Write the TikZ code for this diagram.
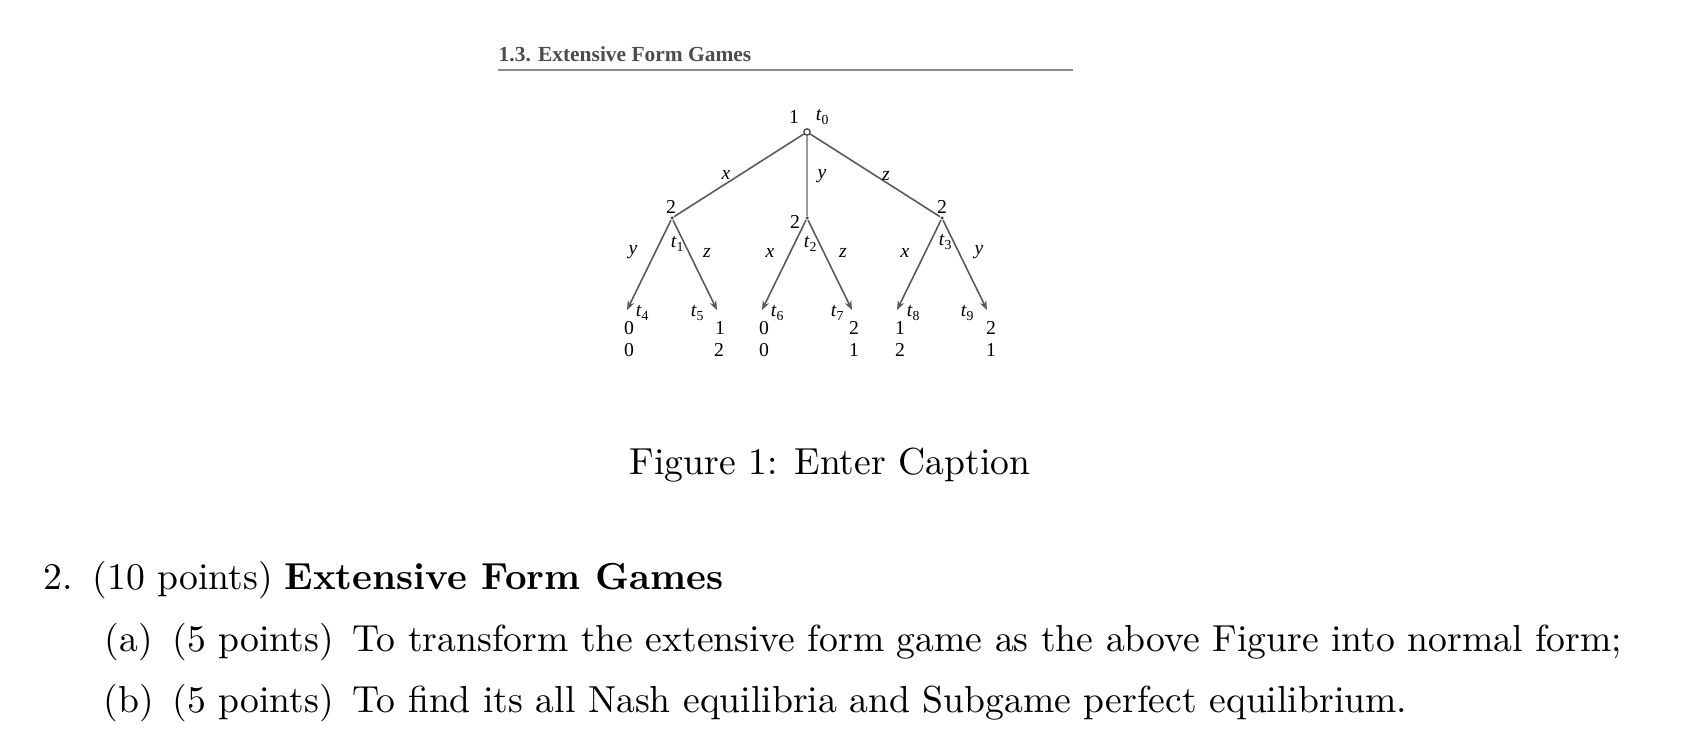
\documentclass[tikz,border=0pt]{standalone}
\usepackage{fontspec}
\usetikzlibrary{arrows.meta}
\newfontfamily\figfont{Liberation Serif}
\newcommand{\tlab}[1]{\textit{t}\textsubscript{#1}}

\begin{document}
\begin{tikzpicture}[
    x=0.01cm, y=-0.01cm,
    txt/.style={anchor=base west, inner sep=0pt, font=\fontsize{10.7}{13}\selectfont},
    hdr/.style={anchor=base west, inner sep=0pt, text=black!70, font=\figfont\bfseries\fontsize{6.1}{8}\selectfont},
    lbl/.style={inner sep=0pt, font=\figfont\fontsize{5.6}{6}\selectfont},
    root/.style={circle, draw=black!70, fill=white, line width=0.4pt, inner sep=0pt, minimum size=1.8pt},
    dot/.style={circle, fill=black!70, inner sep=0pt, minimum size=1pt},
    br/.style={draw=black!65, line width=0.45pt},
    arr/.style={br, -{Stealth[length=2.6pt, width=2pt]}}
]
\useasboundingbox (0,0) rectangle (1686,746);

% page header of the scanned figure
\node[hdr] (head) at (498,62) {1.3. Extensive Form Games};
\coordinate (rulel) at (498,70);
\coordinate (ruler) at (1073,70);
\draw[black!45, line width=0.6pt] (rulel) -- (ruler);

% game tree
\node[root] (t0) at (807,132) {};
\node[dot] (t1) at (672,218) {};
\node[dot] (t2) at (807,218) {};
\node[dot] (t3) at (942,218) {};
\coordinate (t4) at (627,310);
\coordinate (t5) at (717,310);
\coordinate (t6) at (762,310);
\coordinate (t7) at (852,310);
\coordinate (t8) at (897,310);
\coordinate (t9) at (987,310);

\draw[br] (t0) -- (t1);
\draw[br, draw=black!40] (t0) -- (t2);
\draw[br] (t0) -- (t3);
\draw[arr] (t1) -- (t4);
\draw[arr] (t1) -- (t5);
\draw[arr] (t2) -- (t6);
\draw[arr] (t2) -- (t7);
\draw[arr] (t3) -- (t8);
\draw[arr] (t3) -- (t9);

% players and node names
\node[lbl] (p0) at (794,117) {1};
\node[lbl] (n0) at (823,117) {\tlab{0}};
\node[lbl] (p1) at (671,207) {2};
\node[lbl] (p2) at (795,222) {2};
\node[lbl] (p3) at (942,207) {2};
\node[lbl] (n1) at (678,244) {\tlab{1}};
\node[lbl] (n2) at (811,244) {\tlab{2}};
\node[lbl] (n3) at (946,242) {\tlab{3}};
\node[lbl] (n4) at (643,313) {\tlab{4}};
\node[lbl] (n5) at (698,313) {\tlab{5}};
\node[lbl] (n6) at (778,313) {\tlab{6}};
\node[lbl] (n7) at (838,313) {\tlab{7}};
\node[lbl] (n8) at (914,313) {\tlab{8}};
\node[lbl] (n9) at (968,313) {\tlab{9}};

% actions
\node[lbl] (a1) at (726,175) {\textit{x}};
\node[lbl] (a2) at (822,176) {\textit{y}};
\node[lbl] (a3) at (886,176) {\textit{z}};
\node[lbl] (a4) at (633,252) {\textit{y}};
\node[lbl] (a5) at (707,253) {\textit{z}};
\node[lbl] (a6) at (770,253) {\textit{x}};
\node[lbl] (a7) at (843,253) {\textit{z}};
\node[lbl] (a8) at (905,253) {\textit{x}};
\node[lbl] (a9) at (979,252) {\textit{y}};

% payoffs
\node[lbl] (u4) at (629,328) {0};
\node[lbl] (v4) at (629,350) {0};
\node[lbl] (u5) at (720,328) {1};
\node[lbl] (v5) at (719,350) {2};
\node[lbl] (u6) at (764,328) {0};
\node[lbl] (v6) at (764,350) {0};
\node[lbl] (u7) at (854,328) {2};
\node[lbl] (v7) at (854,350) {1};
\node[lbl] (u8) at (900,328) {1};
\node[lbl] (v8) at (900,350) {2};
\node[lbl] (u9) at (991,328) {2};
\node[lbl] (v9) at (991,350) {1};

% caption and exercise text
\node[txt, anchor=base] (cap) at (830,474) {Figure 1: Enter Caption};
\node[txt] (q2) at (43,589) {2.};
\node[txt] (pts) at (92,589) {(10 points)};
\node[txt] (title) at (284,589) {\textbf{Extensive Form Games}};
\node[txt] (ia) at (104,651) {(a)};
\node[txt] (pa) at (172,651) {(5 points)};
\node[txt] (ta) at (352,651) {To transform the extensive form game as the above Figure into normal form;};
\node[txt] (ib) at (103,712) {(b)};
\node[txt] (pb) at (172,712) {(5 points)};
\node[txt] (tb) at (352,712) {To find its all Nash equilibria and Subgame perfect equilibrium.};
\end{tikzpicture}
\end{document}
